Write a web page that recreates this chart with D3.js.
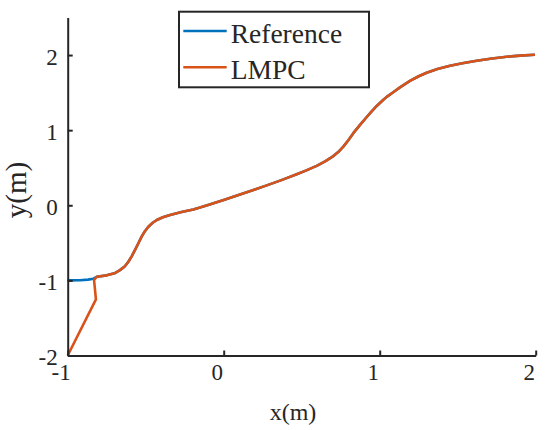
<!DOCTYPE html>
<html>
<head>
<meta charset="utf-8">
<script src="https://cdn.jsdelivr.net/npm/d3@7"></script>
<style>
  body { margin: 0; background: #fff; }
  text { font-family: "Liberation Serif", "Times New Roman", serif; fill: #262626; }
</style>
</head>
<body>
<script>
// data
const xTicks = [-1, 0, 1, 2]
const yTicks = [-2, -1, 0, 1, 2]

const refX = [-1, -0.92, -0.87, -0.836, -0.814, -0.75, -0.7, -0.665, -0.635, -0.611, -0.59, -0.569, -0.547, -0.526, -0.505, -0.483, -0.455, -0.429, -0.39, -0.344, -0.27, -0.195, -0.152, -0.1, 0, 0.1, 0.2, 0.276, 0.37, 0.468, 0.53, 0.596, 0.65, 0.703, 0.74, 0.767, 0.8, 0.831, 0.874, 0.917, 0.95, 0.981, 1.02, 1.045, 1.087, 1.13, 1.194, 1.25, 1.301, 1.37, 1.451, 1.53, 1.622, 1.72, 1.814, 1.9, 1.995]
const refY = [-1, -0.998, -0.99, -0.977, -0.952, -0.933, -0.905, -0.863, -0.815, -0.752, -0.68, -0.596, -0.505, -0.418, -0.345, -0.285, -0.233, -0.196, -0.16, -0.129, -0.09, -0.055, -0.03, 0.004, 0.07, 0.14, 0.21, 0.265, 0.335, 0.413, 0.465, 0.525, 0.585, 0.655, 0.72, 0.781, 0.87, 0.96, 1.07, 1.175, 1.253, 1.322, 1.398, 1.443, 1.505, 1.57, 1.655, 1.718, 1.765, 1.815, 1.857, 1.89, 1.925, 1.955, 1.977, 1.992, 2.004]

const lmpcX = [-1, -0.819, -0.831, -0.814, -0.75, -0.7, -0.665, -0.635, -0.611, -0.59, -0.569, -0.547, -0.526, -0.505, -0.483, -0.455, -0.429, -0.39, -0.344, -0.27, -0.195, -0.152, -0.1, 0, 0.1, 0.2, 0.276, 0.37, 0.468, 0.53, 0.596, 0.65, 0.703, 0.74, 0.767, 0.8, 0.831, 0.874, 0.917, 0.95, 0.981, 1.02, 1.045, 1.087, 1.13, 1.194, 1.25, 1.301, 1.37, 1.451, 1.53, 1.622, 1.72, 1.814, 1.9, 1.995]
const lmpcY = [-2, -1.253, -0.996, -0.952, -0.933, -0.905, -0.863, -0.815, -0.752, -0.68, -0.596, -0.505, -0.418, -0.345, -0.285, -0.233, -0.196, -0.16, -0.129, -0.09, -0.055, -0.03, 0.004, 0.07, 0.14, 0.21, 0.265, 0.335, 0.413, 0.465, 0.525, 0.585, 0.655, 0.72, 0.781, 0.87, 0.96, 1.07, 1.175, 1.253, 1.322, 1.398, 1.443, 1.505, 1.57, 1.655, 1.718, 1.765, 1.815, 1.857, 1.89, 1.925, 1.955, 1.977, 1.992, 2.004]

const seriesNames = ['Reference', 'LMPC']
const seriesColors = ['#0072BD', '#D95319']

let width = 550, height = 430
let plotLeft = 67.7, plotRight = 535.7, plotTop = 17.5, plotBottom = 355.5

let svg = d3.select('body').append('svg')
  .attr('width', width)
  .attr('height', height)

let x = d3.scaleLinear().domain([-1, 2]).range([plotLeft, plotRight])
let y = d3.scaleLinear().domain([-2, 2.5]).range([plotBottom, plotTop])

// curves, reference under LMPC
let line = d3.line().x(d => x(d[0])).y(d => y(d[1]))
let series = [d3.zip(refX, refY), d3.zip(lmpcX, lmpcY)]

svg.append('g').attr('id', 'curves')
  .selectAll('path').data(series).join('path')
    .attr('d', line)
    .attr('fill', 'none')
    .attr('stroke', (d, i) => seriesColors[i])
    .attr('stroke-width', 2.6)
    .attr('stroke-linejoin', 'round')

// axes, ticks pointing inward like MATLAB, plain hyphen for negatives
let tickText = d => String(d)

let xAxis = svg.append('g')
  .attr('transform', `translate(0,${plotBottom})`)
  .call(d3.axisBottom(x).tickValues(xTicks).tickFormat(tickText)
    .tickSize(-5).tickSizeOuter(0).tickPadding(8))
xAxis.selectAll('text').attr('font-size', 23).attr('dx', -7)

let yAxis = svg.append('g')
  .attr('transform', `translate(${plotLeft},0)`)
  .call(d3.axisLeft(y).tickValues(yTicks).tickFormat(tickText)
    .tickSize(-5).tickSizeOuter(0).tickPadding(10))
yAxis.selectAll('text').attr('font-size', 23).attr('dy', '0.4em')

svg.selectAll('.domain, .tick line').attr('stroke', '#262626').attr('stroke-width', 2)
svg.selectAll('.tick text').attr('fill', '#262626').style('font-family', '"Liberation Serif", serif')

// axis titles
svg.append('text')
  .attr('x', 293).attr('y', 420)
  .attr('text-anchor', 'middle')
  .attr('font-size', 24)
  .text('x(m)')

svg.append('text')
  .attr('transform', 'translate(26,190)rotate(-90)')
  .attr('text-anchor', 'middle')
  .attr('font-size', 29)
  .text('y(m)')

// legend
let legend = svg.append('g').attr('id', 'legend')
legend.append('rect')
  .attr('x', 179).attr('y', 11.7)
  .attr('width', 190).attr('height', 75.6)
  .attr('fill', '#fff')
  .attr('stroke', '#262626')
  .attr('stroke-width', 2)

let legendItem = legend.selectAll('g.item').data(seriesNames).join('g')
  .attr('class', 'item')
  .attr('transform', (d, i) => `translate(0,${31 + i * 36.3})`)
legendItem.append('line')
  .attr('x1', 183.3).attr('x2', 226.7)
  .attr('stroke', (d, i) => seriesColors[i])
  .attr('stroke-width', 2.5)
legendItem.append('text')
  .attr('x', 230.7).attr('y', 11.7)
  .attr('font-size', 27.5)
  .text(d => d)
</script>
</body>
</html>
